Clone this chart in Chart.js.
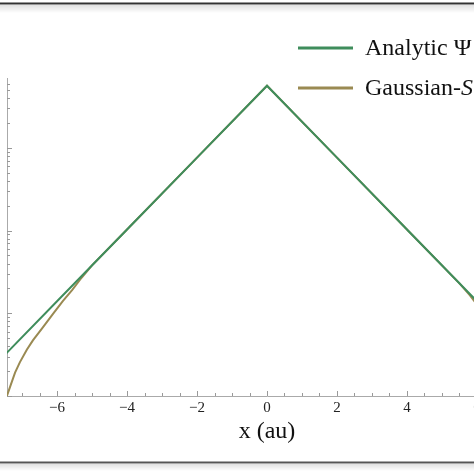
<!DOCTYPE html>
<html>
<head>
<meta charset="utf-8">
<script src="https://cdn.jsdelivr.net/npm/chart.js@4/dist/chart.umd.min.js"></script>
<style>
  html, body { margin: 0; padding: 0; background: #fff; overflow: hidden; }
  #wrap { position: relative; width: 534px; height: 474px; }
</style>
</head>
<body>
<div id="wrap"><canvas id="myChart"></canvas></div>
<script>
// values
let analyticX = [-7.6, -6, -4, -2, 0, 2, 4, 6, 7.6];
let analyticY = [2.82e-4, 1.40e-3, 1.03e-2, 7.63e-2, 0.564, 7.63e-2, 1.03e-2, 1.40e-3, 2.82e-4];

let gaussX = [-7.6, -7.43, -7.34, -7.2, -7.06, -6.86, -6.69, -6.4, -6.11, -5.83, -5.57, -5.3, -5, -4, -2, 0,
              2, 4, 5.5, 5.8, 6.1, 6.4, 6.7, 7.0, 7.3, 7.6];
let gaussY = [5.6e-5, 1.01e-4, 1.30e-4, 1.92e-4, 2.57e-4, 3.65e-4, 4.7e-4, 6.8e-4, 9.9e-4, 1.41e-3, 1.91e-3, 2.69e-3, 3.8e-3, 1.03e-2, 7.63e-2, 0.564,
              7.63e-2, 1.03e-2, 2.3e-3, 1.65e-3, 1.12e-3, 7.6e-4, 5.0e-4, 3.1e-4, 1.7e-4, 7.0e-5];

let xTicks = [-6, -4, -2, 0, 2, 4, 6];
let seriesNames = ['Analytic \u03A8', 'Gaussian-S'];

const green = '#3f8d5c';
const gold = '#9a8a52';
const serif = "'Liberation Serif', 'DejaVu Serif', serif";

function toPoints(xs, ys) {
  return xs.map((x, i) => ({x: x, y: ys[i]}));
}

// frame lines + shadow like the figure box
const framePlugin = {
  id: 'frame',
  beforeDraw(chart) {
    let ctx = chart.ctx;
    let w = chart.width;
    ctx.save();
    let g = ctx.createLinearGradient(0, 5, 0, 13);
    g.addColorStop(0, 'rgba(0,0,0,0.12)');
    g.addColorStop(1, 'rgba(0,0,0,0)');
    ctx.fillStyle = g;
    ctx.fillRect(0, 5, w, 8);
    ctx.fillStyle = '#333';
    ctx.fillRect(0, 2.5, w, 2);
    g = ctx.createLinearGradient(0, 464, 0, 471);
    g.addColorStop(0, 'rgba(0,0,0,0.12)');
    g.addColorStop(1, 'rgba(0,0,0,0)');
    ctx.fillStyle = g;
    ctx.fillRect(0, 464, w, 7);
    ctx.fillStyle = '#555';
    ctx.fillRect(0, 461.5, w, 2);
    ctx.restore();
  }
};

// inward tick marks, mathematica style
const tickPlugin = {
  id: 'inTicks',
  afterDraw(chart) {
    let ctx = chart.ctx;
    let xs = chart.scales.x, ys = chart.scales.y;
    let area = chart.chartArea;
    ctx.save();
    ctx.strokeStyle = '#999';
    ctx.lineWidth = 1;
    ctx.beginPath();
    for (let v = -7; v <= 7.001; v += 0.5) {
      let px = Math.round(xs.getPixelForValue(v)) + 0.5;
      let len = (Math.abs(v % 2) < 0.01) ? 5 : 3;
      ctx.moveTo(px, area.bottom);
      ctx.lineTo(px, area.bottom - len);
    }
    for (let k = -4; k <= 0; k++) {
      for (let m = 1; m <= 9; m++) {
        let v = m * Math.pow(10, k);
        if (v < ys.min || v > ys.max) continue;
        let py = Math.round(ys.getPixelForValue(v)) + 0.5;
        let len = m === 1 ? 5 : 3;
        ctx.moveTo(area.left, py);
        ctx.lineTo(area.left + len, py);
      }
    }
    ctx.stroke();
    ctx.restore();
  }
};

const legendPlugin = {
  id: 'figLegend',
  afterDraw(chart) {
    let ctx = chart.ctx;
    let rows = [48, 88];
    ctx.save();
    chart.data.datasets.forEach((ds, i) => {
      let y = rows[i];
      ctx.strokeStyle = ds.borderColor;
      ctx.lineWidth = 3.2;
      ctx.beginPath();
      ctx.moveTo(298, y);
      ctx.lineTo(353, y);
      ctx.stroke();
      ctx.fillStyle = '#111';
      ctx.textBaseline = 'middle';
      let label = ds.label;
      let cut = label.indexOf('-');
      ctx.font = '24px ' + serif;
      if (cut < 0) {
        ctx.fillText(label, 365, y + 1);
      } else {
        let head = label.slice(0, cut + 1);
        ctx.fillText(head, 365, y + 1);
        let wHead = ctx.measureText(head).width;
        ctx.font = 'italic 24px ' + serif;
        ctx.fillText(label.slice(cut + 1), 365 + wHead, y + 1);
      }
    });
    ctx.restore();
  }
};

new Chart('myChart', {
  type: 'line',
  data: {
    datasets: [
      {
        label: seriesNames[0],
        data: toPoints(analyticX, analyticY),
        borderColor: green,
        borderWidth: 2,
        pointRadius: 0,
        tension: 0
      },
      {
        label: seriesNames[1],
        data: toPoints(gaussX, gaussY),
        borderColor: gold,
        borderWidth: 2,
        pointRadius: 0,
        tension: 0
      }
    ]
  },
  options: {
    responsive: true,
    maintainAspectRatio: false,
    animation: false,
    layout: { padding: { left: 7, right: 7, top: 78, bottom: 30 } },
    plugins: { legend: { display: false }, tooltip: { enabled: false } },
    scales: {
      x: {
        type: 'linear',
        min: -7.43,
        max: 7.43,
        grid: { display: false, drawTicks: false },
        border: { display: true, color: '#aaa', width: 1 },
        afterBuildTicks: (scale) => { scale.ticks = xTicks.map(v => ({value: v})); },
        ticks: {
          autoSkip: false,
          maxRotation: 0,
          padding: 3,
          color: '#222',
          font: { family: serif, size: 15 },
          callback: (v) => v < 0 ? '\u2212' + Math.abs(v) : String(v)
        },
        title: {
          display: true,
          text: 'x (au)',
          color: '#111',
          font: { family: serif, size: 24, lineHeight: 1.0 },
          padding: { top: 0, bottom: 0 }
        }
      },
      y: {
        type: 'logarithmic',
        min: 1e-4,
        max: 0.7,
        grid: { display: false, drawTicks: false },
        border: { display: true, color: '#aaa', width: 1 },
        ticks: { display: false }
      }
    }
  },
  plugins: [framePlugin, tickPlugin, legendPlugin]
});
</script>
</body>
</html>
